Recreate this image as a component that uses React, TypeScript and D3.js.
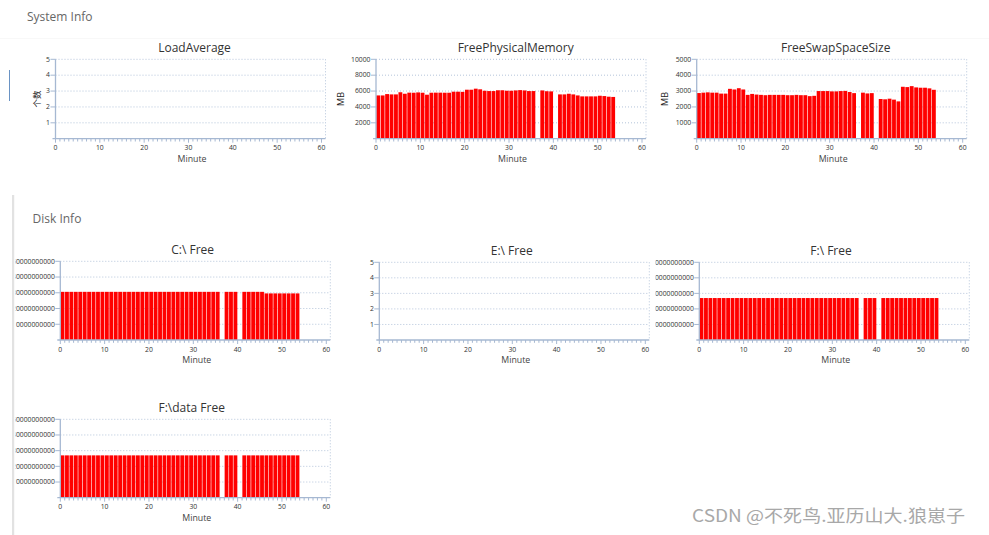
import React from "react";
import * as d3 from "d3";

// Minute axis (0..60) ticks
const minuteTicks = [0, 10, 20, 30, 40, 50, 60];
const minuteMinorTicks = d3.range(0, 61);

// Y tick sets
const countTicks = [1, 2, 3, 4, 5];
const memoryTicks = [2000, 4000, 6000, 8000, 10000];
const swapTicks = [1000, 2000, 3000, 4000, 5000];
const diskTicks = [10000000000, 20000000000, 30000000000, 40000000000, 50000000000];

// Series, one value per minute (null = no sample)
const loadAverage: (number | null)[] = [];

const freePhysicalMemory: (number | null)[] = [
  5450, 5450, 5620, 5580, 5580, 5850, 5660, 5800, 5790, 5830,
  5790, 5540, 5790, 5800, 5800, 5790, 5790, 5920, 5920, 5900,
  6170, 6170, 6300, 6220, 6040, 6000, 6000, 6100, 6100, 6040,
  6040, 6080, 6120, 6080, 6000, 6000, null, 6080, 5980, 5960,
  null, 5580, 5580, 5660, 5580, 5450, 5330, 5330, 5330, 5330,
  5410, 5370, 5290, 5260,
];

const freeSwapSpaceSize: (number | null)[] = [
  2875, 2900, 2920, 2900, 2900, 2840, 2840, 3140, 3100, 3180,
  3100, 2760, 2820, 2780, 2760, 2740, 2760, 2760, 2760, 2760,
  2740, 2740, 2760, 2740, 2740, 2680, 2700, 3000, 3000, 3000,
  2980, 2980, 3000, 3010, 2940, 2870, null, 2900, 2850, 2870,
  null, 2500, 2480, 2520, 2460, 2350, 3270, 3250, 3310, 3230,
  3210, 3210, 3170, 3080,
];

const cFree: (number | null)[] = [
  30600000000, 30600000000, 30600000000, 30600000000, 30600000000, 30600000000,
  30600000000, 30600000000, 30600000000, 30600000000, 30600000000, 30600000000,
  30600000000, 30600000000, 30600000000, 30600000000, 30600000000, 30600000000,
  30600000000, 30600000000, 30600000000, 30600000000, 30600000000, 30600000000,
  30600000000, 30600000000, 30600000000, 30600000000, 30600000000, 30600000000,
  30600000000, 30600000000, 30600000000, 30600000000, 30600000000, 30600000000,
  null, 30600000000, 30600000000, 30600000000, null, 30600000000,
  30600000000, 30600000000, 30600000000, 30600000000, 29600000000, 29600000000,
  29600000000, 29600000000, 29600000000, 29600000000, 29600000000, 29600000000,
];

const eFree: (number | null)[] = [];

const fFree: (number | null)[] = [
  27000000000, 27000000000, 27000000000, 27000000000, 27000000000, 27000000000,
  27000000000, 27000000000, 27000000000, 27000000000, 27000000000, 27000000000,
  27000000000, 27000000000, 27000000000, 27000000000, 27000000000, 27000000000,
  27000000000, 27000000000, 27000000000, 27000000000, 27000000000, 27000000000,
  27000000000, 27000000000, 27000000000, 27000000000, 27000000000, 27000000000,
  27000000000, 27000000000, 27000000000, 27000000000, 27000000000, 27000000000,
  null, 27000000000, 27000000000, 27000000000, null, 27000000000,
  27000000000, 27000000000, 27000000000, 27000000000, 27000000000, 27000000000,
  27000000000, 27000000000, 27000000000, 27000000000, 27000000000, 27000000000,
];

const fDataFree: (number | null)[] = [
  27000000000, 27000000000, 27000000000, 27000000000, 27000000000, 27000000000,
  27000000000, 27000000000, 27000000000, 27000000000, 27000000000, 27000000000,
  27000000000, 27000000000, 27000000000, 27000000000, 27000000000, 27000000000,
  27000000000, 27000000000, 27000000000, 27000000000, 27000000000, 27000000000,
  27000000000, 27000000000, 27000000000, 27000000000, 27000000000, 27000000000,
  27000000000, 27000000000, 27000000000, 27000000000, 27000000000, 27000000000,
  null, 27000000000, 27000000000, 27000000000, null, 27000000000,
  27000000000, 27000000000, 27000000000, 27000000000, 27000000000, 27000000000,
  27000000000, 27000000000, 27000000000, 27000000000, 27000000000, 27000000000,
];

const AXIS = "#a6b8d2";
const GRID = "#b4c4da";
const TEXT = "#333";
const UI_FONT = "'Open Sans', 'Noto Sans CJK SC', sans-serif";

type ChartProps = {
  id: string;
  title: string;
  x0: number;
  top: number;
  bottom: number;
  yMax: number;
  yTicks: number[];
  values: (number | null)[];
  yLabel?: string;
  yLabelDx?: number;
  yLabelSize?: number;
  titleDx: number;
  clipLeft?: number;
};

function BarChart(p: ChartProps) {
  const x = d3.scaleLinear().domain([0, 60]).range([p.x0, p.x0 + 266]);
  const y = d3.scaleLinear().domain([0, p.yMax]).range([p.bottom, p.top]);
  const right = p.x0 + 270;
  const unit = x(1) - x(0);
  const fmt = d3.format("d");
  const clipId = `clip-${p.id}`;
  const clipLeft = p.clipLeft ?? 0;

  return (
    <g>
      <defs>
        <clipPath id={clipId}>
          <rect x={clipLeft} y={p.top - 30} width={340} height={p.bottom - p.top + 70} />
        </clipPath>
      </defs>
      <g clipPath={`url(#${clipId})`}>
        {/* title */}
        <text
          x={p.x0 + p.titleDx}
          y={p.top - 7}
          textAnchor="middle"
          fontFamily={UI_FONT}
          fontSize={12}
          fill={TEXT}
        >
          {p.title}
        </text>

        {/* horizontal dotted grid */}
        {p.yTicks.map((t) => (
          <line
            key={`g${t}`}
            x1={p.x0}
            x2={right}
            y1={y(t)}
            y2={y(t)}
            stroke={GRID}
            strokeWidth={1}
            strokeDasharray="1,2"
          />
        ))}
        {/* dotted right border */}
        <line
          x1={right}
          x2={right}
          y1={p.top}
          y2={p.bottom}
          stroke={GRID}
          strokeWidth={1}
          strokeDasharray="1,2"
        />

        {/* bars */}
        {p.values.map((v, i) =>
          v == null ? null : (
            <rect
              key={`b${i}`}
              x={x(i) + 0.3}
              y={y(v)}
              width={unit - 0.6}
              height={y(0) - y(v)}
              fill="#ff0000"
            />
          )
        )}

        {/* y axis */}
        <line x1={p.x0} x2={p.x0} y1={p.top} y2={p.bottom} stroke={AXIS} strokeWidth={1.3} />
        {p.yTicks.map((t) => (
          <g key={`yt${t}`}>
            <line x1={p.x0 - 5} x2={p.x0} y1={y(t)} y2={y(t)} stroke={AXIS} strokeWidth={1} />
            <text
              x={p.x0 - 5.5}
              y={y(t)}
              dy="0.34em"
              textAnchor="end"
              fontFamily={UI_FONT}
              fontSize={6.8}
              fill={TEXT}
            >
              {fmt(t)}
            </text>
          </g>
        ))}

        {/* x axis */}
        <line x1={p.x0 - 3} x2={right} y1={p.bottom} y2={p.bottom} stroke={AXIS} strokeWidth={1.3} />
        {minuteMinorTicks.map((t) => (
          <line
            key={`xm${t}`}
            x1={x(t)}
            x2={x(t)}
            y1={p.bottom}
            y2={p.bottom + (t % 10 === 0 ? 4 : 2.8)}
            stroke={AXIS}
            strokeWidth={1}
          />
        ))}
        {minuteTicks.map((t) => (
          <text
            key={`xl${t}`}
            x={x(t)}
            y={p.bottom + 11.5}
            textAnchor="middle"
            fontFamily={UI_FONT}
            fontSize={6.8}
            fill={TEXT}
          >
            {t}
          </text>
        ))}
        <text
          x={p.x0 + 136.5}
          y={p.bottom + 23}
          textAnchor="middle"
          fontFamily={UI_FONT}
          fontSize={8.8}
          fill="#444"
        >
          Minute
        </text>

        {p.yLabel ? (
          <text
            transform={`translate(${p.x0 + (p.yLabelDx ?? -30)},${(p.top + p.bottom) / 2}) rotate(-90)`}
            textAnchor="middle"
            fontFamily={UI_FONT}
            fontSize={p.yLabelSize ?? 9}
            fill="#222"
          >
            {p.yLabel}
          </text>
        ) : null}
      </g>
    </g>
  );
}

export default function App() {
  return (
    <svg
      width={989}
      height={535}
      style={{ position: "absolute", left: 0, top: 0, background: "#fff" }}
    >
      <rect x={0} y={0} width={989} height={535} fill="#fff" />

      {/* section headings and panel decorations */}
      <line x1={0} x2={989} y1={38.5} y2={38.5} stroke="#f8f8f8" strokeWidth={1} />
      <text x={27} y={21} fontFamily={UI_FONT} fontSize={12} fill="#666">
        System Info
      </text>
      <line x1={9.5} x2={9.5} y1={70} y2={101} stroke="#6a93c4" strokeWidth={1} />

      <rect x={12} y={195} width={2.2} height={340} fill="#e2e2e2" />
      <text x={32.5} y={223} fontFamily={UI_FONT} fontSize={12} fill="#666">
        Disk Info
      </text>

      <BarChart
        id="load"
        title="LoadAverage"
        x0={55.5}
        top={59.3}
        bottom={138.7}
        yMax={5}
        yTicks={countTicks}
        values={loadAverage}
        yLabel="个数"
        yLabelDx={-16}
        yLabelSize={8.5}
        titleDx={139}
      />
      <BarChart
        id="mem"
        title="FreePhysicalMemory"
        x0={376}
        top={59.3}
        bottom={138.7}
        yMax={10000}
        yTicks={memoryTicks}
        values={freePhysicalMemory}
        yLabel="MB"
        yLabelDx={-32}
        titleDx={139.7}
        clipLeft={330}
      />
      <BarChart
        id="swap"
        title="FreeSwapSpaceSize"
        x0={696.7}
        top={59.3}
        bottom={138.7}
        yMax={5000}
        yTicks={swapTicks}
        values={freeSwapSpaceSize}
        yLabel="MB"
        yLabelDx={-28.5}
        titleDx={139}
        clipLeft={650}
      />

      <BarChart
        id="c"
        title="C:\ Free"
        x0={60.3}
        top={261.3}
        bottom={340}
        yMax={50000000000}
        yTicks={diskTicks}
        values={cFree}
        titleDx={132.4}
        clipLeft={15.5}
      />
      <BarChart
        id="e"
        title="E:\ Free"
        x0={379.3}
        top={262.3}
        bottom={340}
        yMax={5}
        yTicks={countTicks}
        values={eFree}
        titleDx={132.4}
        clipLeft={335}
      />
      <BarChart
        id="f"
        title="F:\ Free"
        x0={699.3}
        top={262.3}
        bottom={340}
        yMax={50000000000}
        yTicks={diskTicks}
        values={fFree}
        titleDx={131.7}
        clipLeft={655.5}
      />
      <BarChart
        id="fdata"
        title="F:\data Free"
        x0={60.3}
        top={419.3}
        bottom={497.7}
        yMax={50000000000}
        yTicks={diskTicks}
        values={fDataFree}
        titleDx={131.4}
        clipLeft={15.5}
      />

      <text
        x={692}
        y={522}
        fontFamily="'Noto Sans CJK SC', sans-serif"
        fontSize={17}
        fill="#a8a8a8"
        textLength={273}
        lengthAdjust="spacingAndGlyphs"
      >
        CSDN @不死鸟.亚历山大.狼崽子
      </text>
    </svg>
  );
}
